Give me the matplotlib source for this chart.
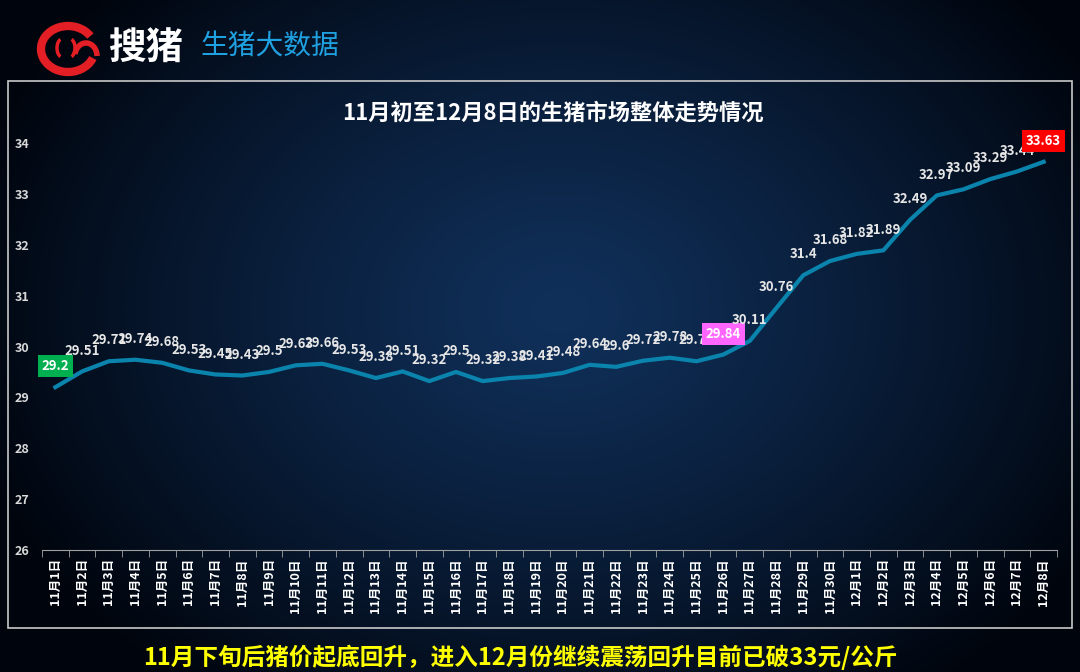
import numpy as np
import matplotlib
matplotlib.use("Agg")
import matplotlib.pyplot as plt
from matplotlib.patches import Arc, Rectangle

plt.rcParams['font.family'] = ['Noto Sans CJK SC', 'DejaVu Sans']

# data
dates = [f"11月{d}日" for d in range(1, 31)] + [f"12月{d}日" for d in range(1, 9)]
prices = [29.2, 29.51, 29.71, 29.74, 29.68, 29.53, 29.45, 29.43, 29.5, 29.63,
          29.66, 29.53, 29.38, 29.51, 29.32, 29.5, 29.32, 29.38, 29.41, 29.48,
          29.64, 29.6, 29.72, 29.78, 29.71, 29.84, 30.11, 30.76, 31.4, 31.68,
          31.82, 31.89, 32.49, 32.97, 33.09, 33.29, 33.44, 33.63]
highlight = {0: '#00b050', 25: '#ff66ff', 37: '#ff0000'}
y_ticks = [26, 27, 28, 29, 30, 31, 32, 33, 34]

title = "11月初至12月8日的生猪市场整体走势情况"
footer = "11月下旬后猪价起底回升，进入12月份继续震荡回升目前已破33元/公斤"

W, H = 1080, 672
fig = plt.figure(figsize=(W / 100, H / 100), dpi=100)

# background: radial gradient, pixel coordinates
bg = fig.add_axes([0, 0, 1, 1], zorder=-10)
yy, xx = np.mgrid[0:H, 0:W]
r = np.sqrt(((xx - 560) / 620.0) ** 2 + ((yy - 310) / 480.0) ** 2)
t = np.clip(r, 0, 1) ** 1.2
c0 = np.array([16, 48, 90]) / 255.0
c1 = np.array([0, 4, 12]) / 255.0
img = c0[None, None, :] * (1 - t[..., None]) + c1[None, None, :] * t[..., None]
bg.imshow(img, extent=[0, W, H, 0], aspect='auto')
bg.set_xlim(0, W)
bg.set_ylim(H, 0)
bg.axis('off')

# chart frame
bg.add_patch(Rectangle((8, 81), 1064, 547, fill=False, edgecolor='#c8c8c8', lw=1.2))

# logo (rough brush swirl)
bg.add_patch(Arc((68, 49), 54, 46, theta1=20, theta2=330, color='#e31e24', lw=6))
bg.add_patch(Arc((86, 56), 22, 26, theta1=190, theta2=360, color='#e31e24', lw=4))
bg.add_patch(Arc((62, 48), 10, 18, theta1=100, theta2=260, color='#e31e24', lw=2.5))
bg.add_patch(Arc((70, 48), 10, 18, theta1=-80, theta2=80, color='#e31e24', lw=2.5))
bg.text(108, 48, "搜猪", color='white', fontsize=27, fontweight='bold',
        va='center', ha='left', style='italic')
bg.text(200, 47, "生猪大数据", color='#1fa0e0', fontsize=20,
        va='center', ha='left')

# title and footer
bg.text(553, 113, title, color='white', fontsize=16, fontweight='bold',
        ha='center', va='center')
bg.text(520, 657, footer, color='#ffff00', fontsize=17, fontweight='bold',
        ha='center', va='center')

# main chart
ax = fig.add_axes([42 / W, 1 - 550 / H, (1057 - 42) / W, (550 - 143) / H])
ax.set_facecolor('none')
x = np.arange(len(prices))
ax.plot(x, prices, color='#0a84ad', lw=3, solid_joinstyle='round')

for i, v in enumerate(prices):
    lbl = f"{v:g}"
    kw = dict(ha='center', va='center', fontsize=9.5, fontweight='bold',
              color='#e6e6e6', textcoords='offset points', xytext=(0, 15))
    if i in highlight:
        kw['color'] = 'white'
        kw['bbox'] = dict(boxstyle='square,pad=0.3', fc=highlight[i], ec='none')
    ax.annotate(lbl, (i, v), **kw)

ax.set_xlim(-0.5, len(prices) - 0.5)
ax.set_ylim(26, 34)
ax.set_yticks(y_ticks)
ax.set_xticks(x)
ax.set_xticklabels(dates, rotation=90, fontsize=9, fontweight='bold', color='white')
ax.set_xticks(np.arange(len(prices) + 1) - 0.5, minor=True)
ax.tick_params(axis='x', which='major', length=0, pad=6)
ax.tick_params(axis='x', which='minor', length=5, color='#a0a0a0')
ax.tick_params(axis='y', length=0, pad=9, labelsize=9, labelcolor='#d9d9d9')
for lab in ax.get_yticklabels():
    lab.set_fontweight('bold')
for s in ['top', 'right', 'left']:
    ax.spines[s].set_visible(False)
ax.spines['bottom'].set_color('#a0a0a0')

fig.savefig('out.png', dpi=100)
